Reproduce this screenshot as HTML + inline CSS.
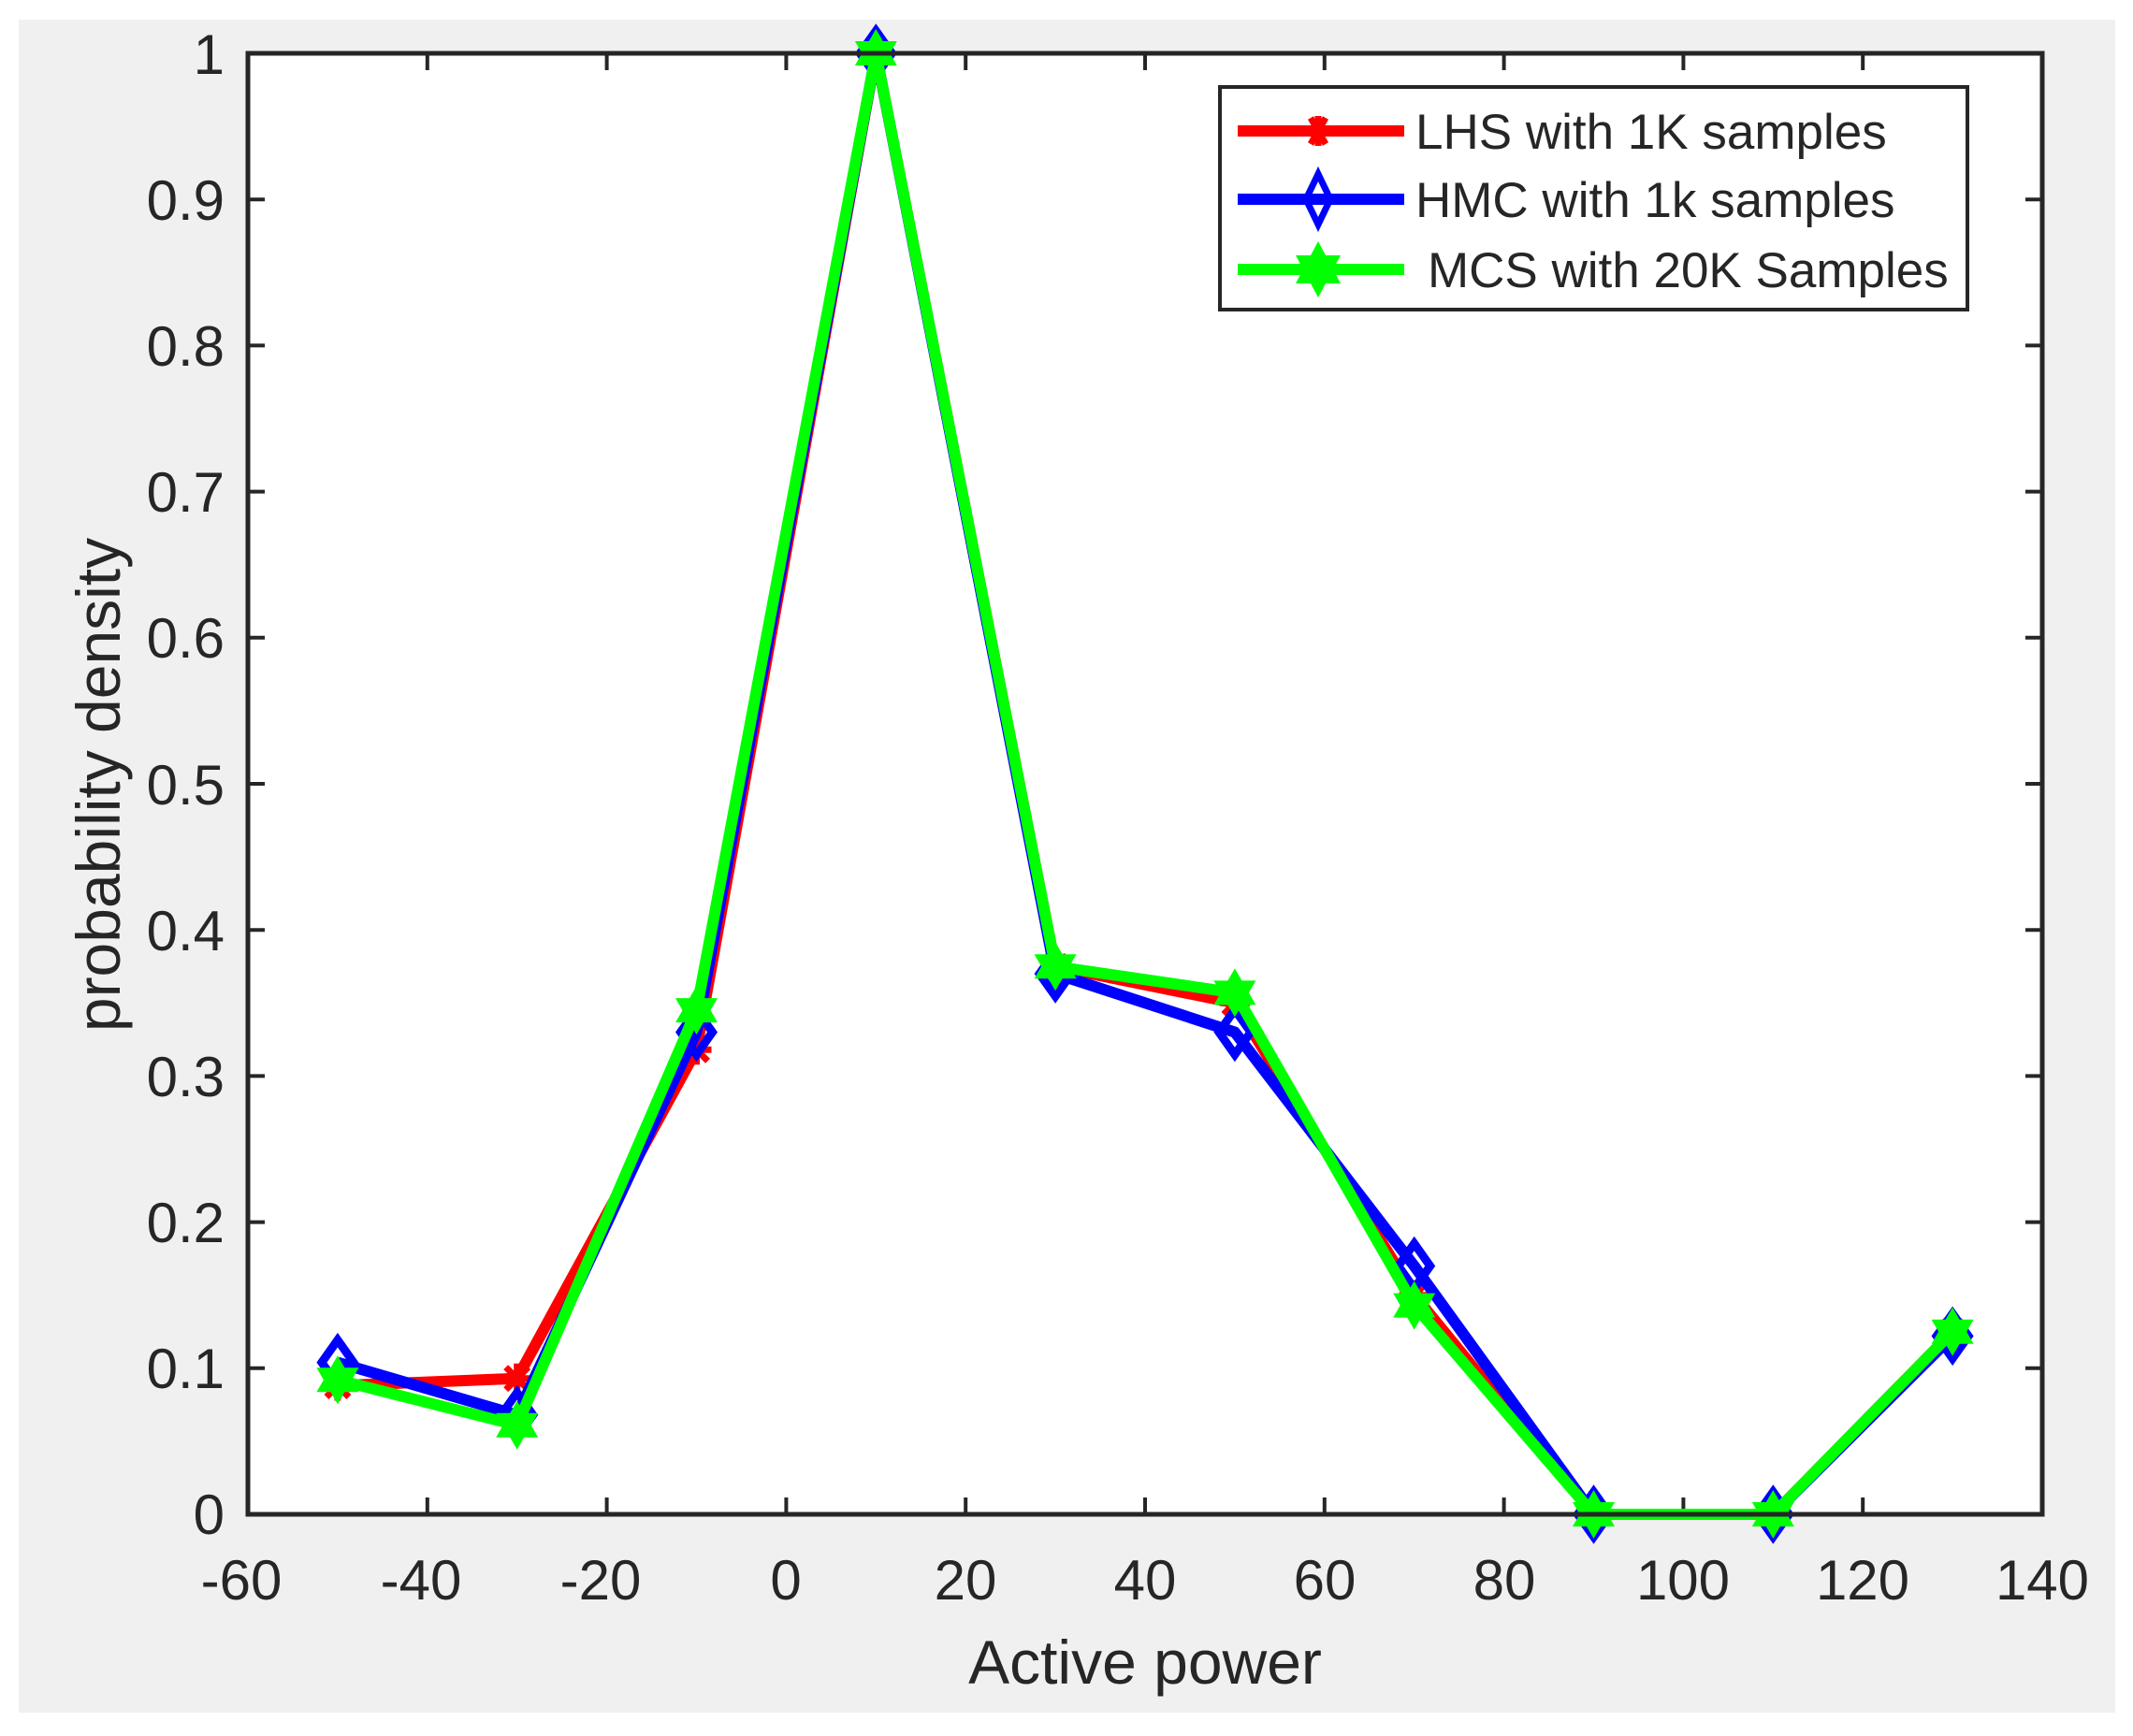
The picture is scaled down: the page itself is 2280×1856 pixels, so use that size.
<!DOCTYPE html>
<html><head><meta charset="utf-8"><style>
html,body{margin:0;padding:0;background:#fff;}
svg{display:block;}
text{font-family:"Liberation Sans",Arial,sans-serif;fill:#262626;}
</style></head><body>
<svg width="2280" height="1856" viewBox="0 0 2280 1856" xmlns="http://www.w3.org/2000/svg">
<defs>
<marker id="ast" markerUnits="userSpaceOnUse" markerWidth="40" markerHeight="40" refX="20" refY="20" overflow="visible">
<g transform="translate(20,20)" stroke="#ff0000" stroke-width="7" fill="none"><path d="M-12,-12L12,12M-12,12L12,-12M0,-16L0,16M-16,0L16,0"/></g>
</marker>
<marker id="dia" markerUnits="userSpaceOnUse" markerWidth="40" markerHeight="40" refX="20" refY="20" overflow="visible">
<g transform="translate(20,20)"><path d="M0,-24L17,0L0,24L-17,0Z" fill="none" stroke="#0000ff" stroke-width="9"/></g>
</marker>
<marker id="hex" markerUnits="userSpaceOnUse" markerWidth="60" markerHeight="60" refX="30" refY="30" overflow="visible">
<g transform="translate(30,30)" fill="#00ff00"><path d="M0,-26L22.5,13L-22.5,13Z"/><path d="M0,26L22.5,-13L-22.5,-13Z"/></g>
</marker>
</defs>
<rect x="20" y="21" width="2241" height="1810" fill="#f0f0f0"/>
<rect x="265" y="57" width="1918" height="1562" fill="#fff"/>
<g stroke="#262626" stroke-width="4">
<path d="M265,1619h18M265,1462.8h18M265,1306.6h18M265,1150.4h18M265,994.2h18M265,838h18M265,681.8h18M265,525.6h18M265,369.4h18M265,213.2h18M265,57h18"/>
<path d="M2183,1619h-18M2183,1462.8h-18M2183,1306.6h-18M2183,1150.4h-18M2183,994.2h-18M2183,838h-18M2183,681.8h-18M2183,525.6h-18M2183,369.4h-18M2183,213.2h-18M2183,57h-18"/>
<path d="M265,1619v-18M456.8,1619v-18M648.6,1619v-18M840.4,1619v-18M1032.2,1619v-18M1224,1619v-18M1415.8,1619v-18M1607.6,1619v-18M1799.4,1619v-18M1991.2,1619v-18M2183,1619v-18"/>
<path d="M265,57v18M456.8,57v18M648.6,57v18M840.4,57v18M1032.2,57v18M1224,57v18M1415.8,57v18M1607.6,57v18M1799.4,57v18M1991.2,57v18M2183,57v18"/>
</g>
<g fill="none" stroke-width="12" stroke-linejoin="round">
<polyline stroke="#ff0000" marker-start="url(#ast)" marker-mid="url(#ast)" marker-end="url(#ast)" points="360.9,1481.5 552.7,1473.7 744.5,1122.3 936.3,57 1128.1,1033.3 1319.9,1072.3 1511.7,1384.7 1703.5,1619 1895.3,1619 2087.1,1423.8"/>
<polyline stroke="#0000ff" marker-start="url(#dia)" marker-mid="url(#dia)" marker-end="url(#dia)" points="360.9,1456.6 552.7,1512.8 744.5,1103.5 936.3,57 1128.1,1041.1 1319.9,1103.5 1511.7,1353.5 1703.5,1619 1895.3,1619 2087.1,1428.4"/>
<polyline stroke="#00ff00" marker-start="url(#hex)" marker-mid="url(#hex)" marker-end="url(#hex)" points="360.9,1475.3 552.7,1523.7 744.5,1080.1 936.3,57 1128.1,1033.3 1319.9,1061.4 1511.7,1395.6 1703.5,1619 1895.3,1619 2087.1,1423.8"/>
</g>
<rect x="265" y="57" width="1918" height="1562" fill="none" stroke="#262626" stroke-width="5"/>
<g font-size="60" text-anchor="end">
<text x="240" y="1640">0</text>
<text x="240" y="1484">0.1</text>
<text x="240" y="1328">0.2</text>
<text x="240" y="1172">0.3</text>
<text x="240" y="1016">0.4</text>
<text x="240" y="860">0.5</text>
<text x="240" y="703">0.6</text>
<text x="240" y="547">0.7</text>
<text x="240" y="391">0.8</text>
<text x="240" y="235">0.9</text>
<text x="240" y="79">1</text>
</g>
<g font-size="60" text-anchor="middle">
<text x="258" y="1710">-60</text>
<text x="450" y="1710">-40</text>
<text x="642" y="1710">-20</text>
<text x="840" y="1710">0</text>
<text x="1032" y="1710">20</text>
<text x="1224" y="1710">40</text>
<text x="1416" y="1710">60</text>
<text x="1608" y="1710">80</text>
<text x="1799" y="1710">100</text>
<text x="1991" y="1710">120</text>
<text x="2183" y="1710">140</text>
</g>
<text x="1224" y="1800" font-size="66" text-anchor="middle">Active power</text>
<text transform="translate(128,839) rotate(-90)" font-size="66" text-anchor="middle">probability density</text>
<rect x="1304" y="93" width="799" height="238" fill="#fff" stroke="#262626" stroke-width="4"/>
<g stroke-width="12">
<line x1="1323" y1="140" x2="1501" y2="140" stroke="#ff0000"/>
<line x1="1323" y1="213" x2="1501" y2="213" stroke="#0000ff"/>
<line x1="1323" y1="288" x2="1501" y2="288" stroke="#00ff00"/>
</g>
<g transform="translate(1409,140)" stroke="#ff0000" stroke-width="7" fill="none"><path d="M-8,-14L8,14M-8,14L8,-14M0,-16L0,16"/></g>
<g transform="translate(1409,213)"><path d="M0,-27L13,0L0,27L-13,0Z" fill="none" stroke="#0000ff" stroke-width="7"/></g>
<g transform="translate(1409,288)" fill="#00ff00"><path d="M0,-30L24,15L-24,15Z"/><path d="M0,30L24,-15L-24,-15Z"/></g>
<g font-size="53" fill="#111">
<text x="1513" y="159">LHS with 1K samples</text>
<text x="1513" y="232">HMC with 1k samples</text>
<text x="1526" y="307">MCS with 20K Samples</text>
</g>
</svg>
</body></html>
